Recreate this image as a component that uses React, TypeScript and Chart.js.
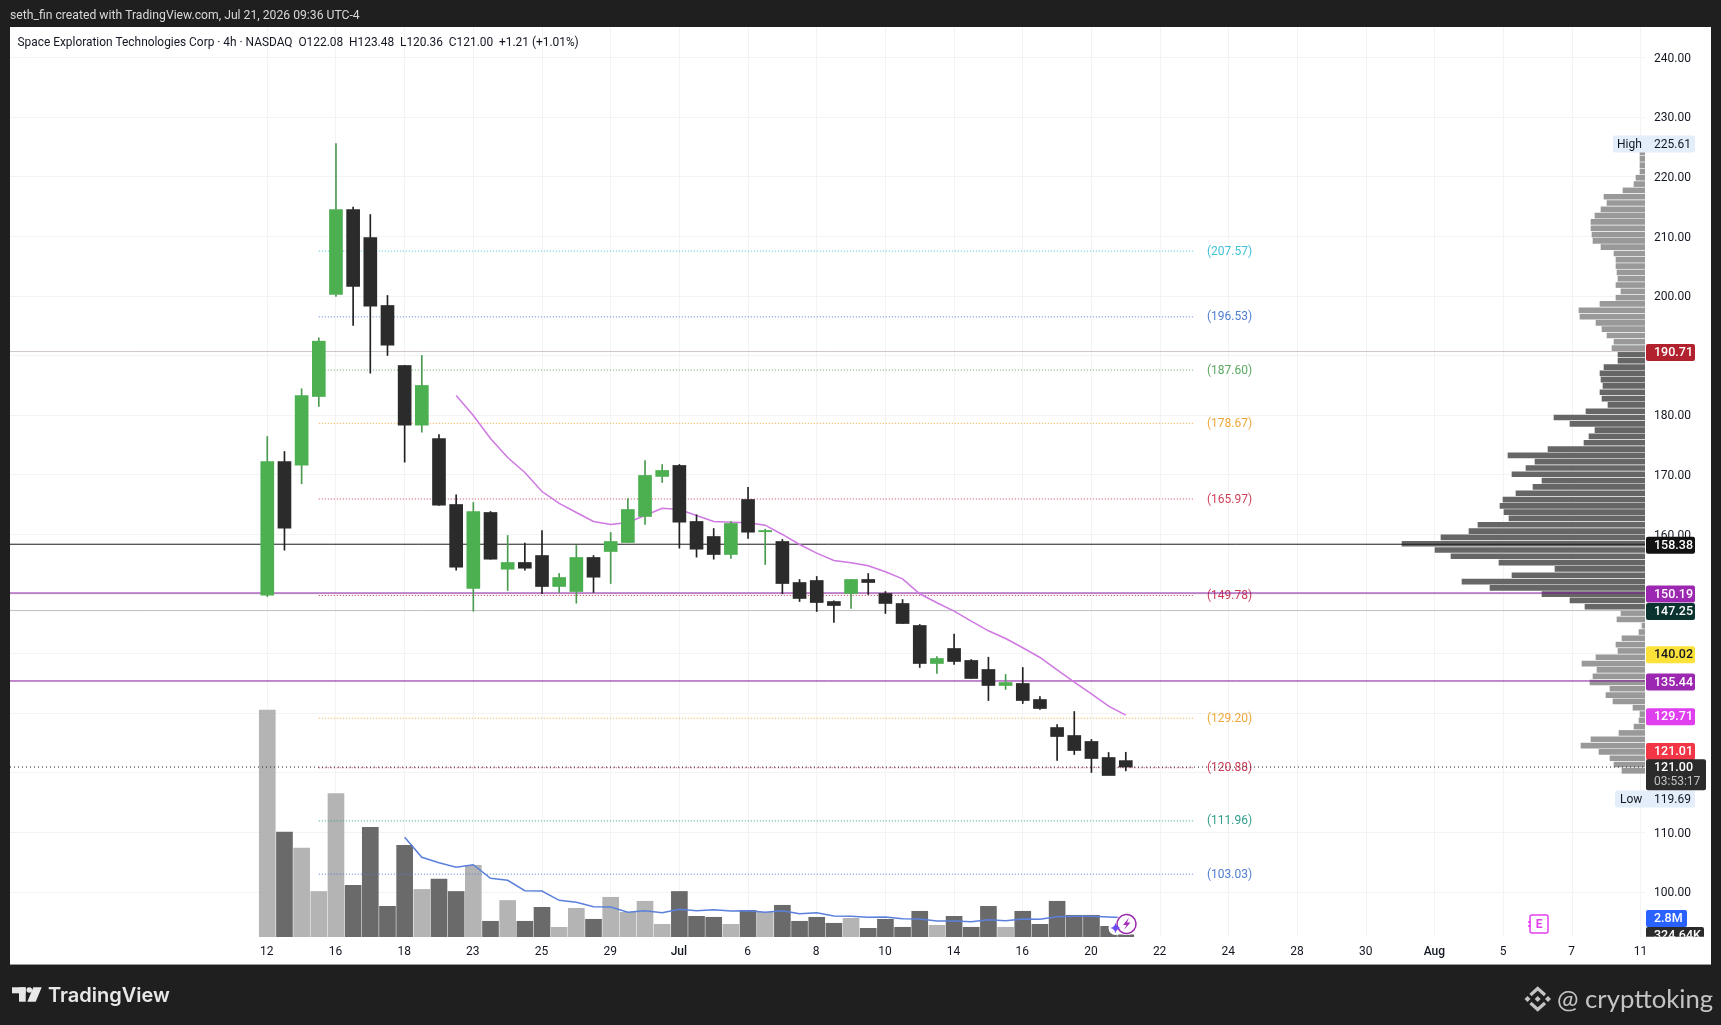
import React, { useEffect, useRef } from "react";
import { Chart, registerables } from "chart.js";

Chart.register(...registerables);

// ---- candles (4h bars, index 0..50) ----
const opens = [149.83,172.27,171.64,183.17,200.29,214.55,209.85,198.44,188.37,178.36,176.12,165.05,150.96,163.71,154.19,155.32,156.49,151.29,150.45,156.16,157.16,158.67,163.04,169.76,171.6,162.2,159.68,156.66,165.89,160.47,158.84,151.96,152.3,148.77,150.12,152.47,150.12,148.44,144.75,138.37,140.89,138.88,137.37,134.68,135.02,132.33,127.63,126.29,125.29,122.6,122.08];
const highs = [176.46,173.94,184.46,193.02,225.61,214.93,213.7,200.12,188.4,190.05,176.79,166.68,165.39,163.88,159.85,158.56,160.69,153.47,158.17,156.49,160.35,166.06,172.43,171.76,171.76,163.32,161.02,162.2,167.95,160.91,159.18,152.47,152.97,148.9,152.5,153.47,150.45,149.11,144.92,139.55,143.29,139.04,139.43,136.53,137.7,132.84,128.14,130.32,125.62,123.44,123.48];
const lows = [149.6,157.38,168.52,181.49,199.95,195.08,187.08,190.05,172.15,177.18,164.9,154.03,147.15,155.87,150.62,154.03,150.07,150.29,148.49,150.29,151.79,158.67,161.69,168.74,157.72,156.21,155.87,155.99,159.35,154.98,150.07,148.77,147.1,145.25,147.6,149.95,146.76,145.08,137.7,136.69,138.2,135.86,132.16,134.01,131.66,130.65,122.1,123.1,120.08,119.69,120.36];
const closes = [172.27,161.07,183.34,192.45,214.55,201.63,198.32,191.78,178.36,185.02,164.93,154.53,163.88,155.87,155.32,154.36,151.29,152.8,156.16,152.85,158.84,164.21,169.92,170.76,162.08,157.55,156.66,161.86,160.4,160.69,151.79,149.28,148.6,148.1,152.47,151.96,148.44,145.08,138.37,139.21,138.71,135.86,134.68,135.18,132.16,130.82,126.12,123.77,122.43,119.58,121.0];

// ---- moving average on price, starts at bar 11 ----
const priceMA = [183.34,179.98,176.12,172.93,170.42,167.23,165.22,163.71,162.2,161.69,162.03,163.2,164.43,164.21,163.2,162.2,162.08,161.98,161.58,160.02,158.34,156.88,155.65,155.27,154.77,153.76,152.58,150.07,148.56,147.15,145.47,143.86,142.57,141.01,139.38,137.32,135.23,133.29,131.21,129.71];

// ---- volume in millions ----
const volumes = [32.9,15.2,12.9,6.6,20.8,7.5,15.9,4.45,13.3,6.9,8.4,6.6,10.4,2.28,5.3,2.28,4.3,1.4,4.16,2.57,5.76,3.58,5.18,1.84,6.6,3.0,2.86,1.84,3.87,3.58,4.6,2.28,2.86,1.99,2.71,1.26,2.57,1.41,3.73,1.7,3.0,1.41,4.45,1.41,3.73,1.84,5.18,3.15,3.15,1.55,0.325];
// ---- volume moving average, starts at bar 8 ----
const volumeMA = [14.46,11.56,10.77,10.1,10.48,8.51,8.22,6.71,6.67,5.32,5.03,4.39,4.35,3.58,3.81,3.52,4.02,3.81,3.96,3.77,3.81,3.58,3.81,3.38,3.52,3.05,3.0,2.86,2.9,2.65,2.61,2.32,2.32,2.22,2.51,2.36,2.61,2.57,2.94,3.0,3.0,2.9,2.8];

// ---- volume profile ----
const profilePrices = [224.1,223.04,221.98,220.92,219.87,218.81,217.75,216.69,215.63,214.57,213.52,212.46,211.4,210.34,209.28,208.22,207.16,206.11,205.05,203.99,202.93,201.87,200.81,199.75,198.7,197.64,196.58,195.52,194.46,193.4,192.35,191.29,190.23,189.17,188.11,187.05,185.99,184.94,183.88,182.82,181.76,180.7,179.64,178.58,177.53,176.47,175.41,174.35,173.29,172.23,171.18,170.12,169.06,168.0,166.94,165.88,164.82,163.77,162.71,161.65,160.59,159.53,158.47,157.41,156.36,155.3,154.24,153.18,152.12,151.06,150.01,148.95,147.89,146.83,145.77,144.71,143.65,142.6,141.54,140.48,139.42,138.36,137.3,136.24,135.19,134.13,133.07,132.01,130.95,129.89,128.83,127.78,126.72,125.66,124.6,123.54,122.48,121.43,120.37];
const profileVolumes = [5,5,5,5,9,11,22,41,38,44,50,54,54,53,52,44,31,29,29,28,27,29,24,29,45,66,65,49,43,38,31,33,27,27,41,45,44,42,45,43,37,59,91,75,50,56,61,97,137,110,119,133,103,112,129,142,145,141,136,167,176,204,243,210,194,146,90,133,183,155,103,75,60,24,28,3,6,23,29,27,49,63,48,52,55,35,39,32,12,5,6,11,26,54,64,46,35,31,23];
const valueAreaHigh = 190.71;
const valueAreaLow = 147.25;

// ---- horizontal levels ----
const fibLevels = [207.57,196.53,187.6,178.67,165.97,149.78,129.2,120.88,111.96,103.03];
const fibColors = ["#3fc1d6","#4f7fd0","#5aa85f","#f0a63a","#d0415a","#c83a55","#f0a63a","#c83a55","#2f9e8c","#4f7fd0"];
const solidLevels = [190.71,158.38,150.19,147.25,135.44];
const solidColors = ["#cfc6c6","#1a1a1a","#82149a","#bdbfbf","#82149a"];
const lastPrice = 121.0;

// ---- axis ticks ----
const priceTicks = [100,110,120,130,140,150,160,170,180,190,200,210,220,230,240];
const hiddenPriceLabels = [120,130,140,150,190];
const timeTickBars = [0,4,8,12,16,20,24,28,32,36,40,44,48,52,56,60,64,68,72,76,80];
const timeTickLabels = ["12","16","18","23","25","29","Jul","6","8","10","14","16","20","22","24","28","30","Aug","5","7","11"];
const monthLabels = ["Jul","Aug"];

// ---- tags on the price axis ----
const tagValues = [190.71,158.38,150.19,147.25,140.02,135.44,129.71,121.01];
const tagTexts = ["190.71","158.38","150.19","147.25","140.02","135.44","129.71","121.01"];
const tagBackgrounds = ["#b2222e","#111111","#9c27b0","#0b3330","#fde23a","#9c27b0","#e03fef","#f23645"];
const tagForegrounds = ["#ffffff","#ffffff","#ffffff","#ffffff","#131722","#ffffff","#ffffff","#ffffff"];

const symbolLine = "Space Exploration Technologies Corp · 4h · NASDAQ  O122.08  H123.48  L120.36  C121.00  +1.21 (+1.01%)";
const creditLine = "seth_fin created with TradingView.com, Jul 21, 2026 09:36 UTC-4";

const FONT = "Roboto, 'Liberation Sans', sans-serif";
const GREEN = "#4caf50";
const DARK = "#2b2b2b";
const bars = opens.map((_, i) => i);
const xMin = -14.985;
const xMax = 80.24;
const fibFrom = 3;
const fibTo = 54;

const overlay = {
  id: "overlay",
  beforeDraw(chart: any) {
    const c = chart.ctx;
    c.save();
    c.fillStyle = "#1f1f1f";
    c.fillRect(0, 0, chart.width, chart.height);
    c.fillStyle = "#ffffff";
    c.fillRect(10, 27, 1701, 937);
    c.fillStyle = "#9a9a9a";
    c.fillRect(10, 964, 1701, 1);
    c.restore();
  },
  beforeDatasetsDraw(chart: any) {
    const c = chart.ctx;
    const y = chart.scales.y;
    c.save();
    c.font = `12px ${FONT}`;
    c.textBaseline = "middle";
    c.textAlign = "left";
    fibLevels.forEach((v, i) => {
      c.fillStyle = fibColors[i];
      c.fillText(`(${v.toFixed(2)})`, 1207, y.getPixelForValue(v) + 0.5);
    });
    c.restore();
  },
  afterDraw(chart: any) {
    const c = chart.ctx;
    const y = chart.scales.y;
    c.save();
    c.textBaseline = "middle";
    c.textAlign = "left";

    // header text
    c.font = `12.2px ${FONT}`;
    c.fillStyle = "#d8d8d8";
    c.fillText(creditLine, 10, 16);
    c.fillStyle = "#131722";
    c.font = `11.9px ${FONT}`;
    c.fillText(symbolLine, 17.5, 43);

    const pill = (x0: number, x1: number, cy: number, h: number, bg: string) => {
      c.fillStyle = bg;
      c.beginPath();
      c.roundRect(x0, cy - h / 2, x1 - x0, h, 2);
      c.fill();
    };

    c.font = `12px ${FONT}`;
    // High / Low
    const highY = y.getPixelForValue(225.61) + 0.5;
    pill(1613, 1695, highY, 17, "#e3eefa");
    c.fillStyle = "#131722";
    c.fillText("High", 1617, highY + 0.5);
    c.fillText("225.61", 1654, highY + 0.5);
    pill(1615, 1695, 799, 17, "#e3eefa");
    c.fillStyle = "#131722";
    c.fillText("Low", 1620, 799.5);
    c.fillText("119.69", 1654, 799.5);

    // Value tags
    c.font = `500 12.5px ${FONT}`;
    tagValues.forEach((v, i) => {
      const nudge = v === 121.01 ? -15.5 : v === 129.71 ? 1.5 : 1;
      const cy = y.getPixelForValue(v) + nudge;
      pill(1646, 1695, cy, 17, tagBackgrounds[i]);
      c.fillStyle = tagForegrounds[i];
      c.fillText(tagTexts[i], 1654, cy + 0.5);
    });

    // Last price with countdown
    pill(1646, 1706, 774.7, 31, "#2b2b2b");
    c.fillStyle = "#ffffff";
    c.fillText("121.00", 1654, 768);
    c.font = `12px ${FONT}`;
    c.fillStyle = "#c2c2c2";
    c.fillText("03:53:17", 1654, 782);

    // Volume tags
    c.font = `500 12.5px ${FONT}`;
    pill(1646, 1687, 918.5, 17, "#2962ff");
    c.fillStyle = "#ffffff";
    c.fillText("2.8M", 1654, 919);
    c.save();
    c.beginPath();
    c.rect(1640, 927, 70, 9.7);
    c.clip();
    pill(1646, 1704, 935.5, 17, "#2b2b2b");
    c.fillStyle = "#ffffff";
    c.fillText("324.64K", 1654, 936);
    c.restore();

    // Earnings marker
    c.strokeStyle = "#e23fee";
    c.lineWidth = 1.5;
    c.beginPath();
    c.roundRect(1530, 915, 18, 18, 2);
    c.stroke();
    c.beginPath();
    c.moveTo(1528, 922);
    c.lineTo(1531, 922);
    c.moveTo(1528, 926);
    c.lineTo(1531, 926);
    c.stroke();
    c.fillStyle = "#e23fee";
    c.font = `bold 12px ${FONT}`;
    c.textAlign = "center";
    c.fillText("E", 1539, 924.5);
    c.textAlign = "left";

    // Lightning badge and star
    c.fillStyle = "#ffffff";
    c.beginPath();
    c.arc(1126.5, 924, 11, 0, Math.PI * 2);
    c.fill();
    c.beginPath();
    c.arc(1115.5, 928, 7, 0, Math.PI * 2);
    c.fill();
    c.strokeStyle = "#9c27b0";
    c.lineWidth = 1.5;
    c.beginPath();
    c.arc(1126.5, 924, 9.5, -0.1, Math.PI * 2);
    c.stroke();
    c.fillStyle = "#a52bbd";
    c.beginPath();
    c.moveTo(1129, 917.5);
    c.lineTo(1123, 925);
    c.lineTo(1126.5, 925);
    c.lineTo(1124, 930);
    c.lineTo(1130.5, 922.5);
    c.lineTo(1127, 922.5);
    c.closePath();
    c.fill();
    c.fillStyle = "#6a4df5";
    c.beginPath();
    c.moveTo(1115.5, 922.5);
    c.quadraticCurveTo(1116.2, 927.3, 1121, 928);
    c.quadraticCurveTo(1116.2, 928.7, 1115.5, 933.5);
    c.quadraticCurveTo(1114.8, 928.7, 1110, 928);
    c.quadraticCurveTo(1114.8, 927.3, 1115.5, 922.5);
    c.fill();

    // TradingView logo
    c.fillStyle = "#e8e8e8";
    c.fillRect(12, 987.3, 13.7, 6);
    c.fillRect(19, 987.3, 6.7, 14.4);
    c.beginPath();
    c.arc(29.3, 990, 2.8, 0, Math.PI * 2);
    c.fill();
    c.beginPath();
    c.moveTo(33.3, 987.3);
    c.lineTo(41.7, 987.3);
    c.lineTo(35.7, 1001.7);
    c.lineTo(27.3, 1001.7);
    c.closePath();
    c.fill();
    c.font = `600 20px Inter, ${FONT}`;
    c.fillText("TradingView", 48, 996);

    // Watermark
    c.fillStyle = "#c4c4c4";
    const gem = (cx: number, cy: number, r: number) => {
      c.beginPath();
      c.moveTo(cx, cy - r);
      c.lineTo(cx + r, cy);
      c.lineTo(cx, cy + r);
      c.lineTo(cx - r, cy);
      c.closePath();
      c.fill();
    };
    gem(1527.5, 999, 3);
    gem(1548, 999, 3);
    gem(1537.7, 999, 3);
    c.strokeStyle = "#c4c4c4";
    c.lineWidth = 3.2;
    c.beginPath();
    c.moveTo(1530.5, 995);
    c.lineTo(1537.7, 988.5);
    c.lineTo(1545, 995);
    c.moveTo(1530.5, 1003);
    c.lineTo(1537.7, 1009.5);
    c.lineTo(1545, 1003);
    c.stroke();
    c.font = `25.7px Lato, ${FONT}`;
    c.fillText("@ crypttoking", 1557, 1000);
    c.restore();
  },
};

function hLine(id: string, value: number, from: number, to: number, color: string, dash: number[], order: number) {
  return {
    type: "line",
    label: id,
    data: [
      { x: from, y: value },
      { x: to, y: value },
    ],
    borderColor: color,
    borderWidth: 1,
    borderDash: dash,
    pointRadius: 0,
    xAxisID: "x",
    yAxisID: "y",
    order,
  };
}

export default function App() {
  const ref = useRef<HTMLCanvasElement | null>(null);

  useEffect(() => {
    if (!ref.current) return;
    const up = (i: number) => closes[i] >= opens[i];
    const datasets: any[] = [
      {
        type: "bar",
        label: "Volume",
        data: bars.map((i) => ({ x: i, y: volumes[i] })),
        backgroundColor: bars.map((i) => (up(i) ? "#b4b4b4" : "#6a6a6a")),
        barThickness: 16,
        grouped: false,
        xAxisID: "x",
        yAxisID: "yv",
        order: 10,
      },
      {
        type: "line",
        label: "Volume MA",
        data: volumeMA.map((v, i) => ({ x: i + 8, y: v })),
        borderColor: "#5b80dc",
        borderWidth: 1.5,
        pointRadius: 0,
        xAxisID: "x",
        yAxisID: "yv",
        order: 9,
      },
      {
        type: "bar",
        label: "Volume profile",
        indexAxis: "y",
        data: profilePrices.map((p, i) => ({ x: profileVolumes[i], y: p })),
        backgroundColor: profilePrices.map((p) =>
          p <= valueAreaHigh && p >= valueAreaLow ? "#666666" : "#999999"
        ),
        barThickness: 5,
        grouped: false,
        xAxisID: "xp",
        yAxisID: "y",
        order: 8,
      },
      ...fibLevels.map((v, i) => hLine(`fib ${v}`, v, fibFrom, fibTo, fibColors[i], [1, 2], 7)),
      ...solidLevels.map((v, i) => hLine(`level ${v}`, v, xMin, xMax, solidColors[i], [], 6)),
      hLine("last", lastPrice, xMin, xMax, "#222222", [1, 3], 6),
      {
        type: "line",
        label: "MA",
        data: priceMA.map((v, i) => ({ x: i + 11, y: v })),
        borderColor: "#cf78e2",
        borderWidth: 1.5,
        pointRadius: 0,
        xAxisID: "x",
        yAxisID: "y",
        order: 5,
      },
      {
        type: "bar",
        label: "Wicks",
        data: bars.map((i) => ({ x: i, y: [lows[i], highs[i]] })),
        backgroundColor: bars.map((i) => (up(i) ? "#4a9a50" : "#222222")),
        barThickness: 1,
        grouped: false,
        xAxisID: "x",
        yAxisID: "y",
        order: 4,
      },
      {
        type: "bar",
        label: "Bodies",
        data: bars.map((i) => ({ x: i, y: [opens[i], closes[i]] })),
        backgroundColor: bars.map((i) => (up(i) ? GREEN : DARK)),
        barThickness: 13,
        grouped: false,
        xAxisID: "x",
        yAxisID: "y",
        order: 3,
      },
    ];

    const chart = new Chart(ref.current, {
      type: "bar",
      data: { datasets },
      plugins: [overlay],
      options: {
        responsive: false,
        animation: false,
        events: [],
        layout: { padding: { left: 10, top: 27, right: 10, bottom: 60 } },
        plugins: { legend: { display: false }, tooltip: { enabled: false }, title: { display: false } },
        scales: {
          x: {
            type: "linear",
            position: "bottom",
            min: xMin,
            max: xMax,
            offset: false,
            grid: { color: "#f3f3f3", offset: false, drawTicks: false },
            border: { display: false },
            afterBuildTicks: (axis: any) => {
              axis.ticks = timeTickBars.map((value) => ({ value }));
            },
            afterFit: (axis: any) => {
              axis.height = 28;
            },
            ticks: {
              autoSkip: false,
              maxRotation: 0,
              minRotation: 0,
              padding: 8,
              labelOffset: -0.5,
              color: "#131722",
              font: (ctx: any) => {
                const k = timeTickBars.indexOf(Number(ctx.tick && ctx.tick.value));
                const month = k >= 0 && monthLabels.includes(timeTickLabels[k]);
                return { family: FONT, size: 12, weight: month ? "500" : "400" };
              },
              callback: (value: any) => {
                const k = timeTickBars.indexOf(Number(value));
                return k >= 0 ? timeTickLabels[k] : "";
              },
            },
          },
          y: {
            type: "linear",
            position: "right",
            min: 92.484,
            max: 245.164,
            offset: false,
            grid: { color: "#f3f3f3", offset: false, drawTicks: false },
            border: { display: false },
            afterBuildTicks: (axis: any) => {
              axis.ticks = priceTicks.map((value) => ({ value }));
            },
            afterFit: (axis: any) => {
              axis.width = 66;
            },
            ticks: {
              autoSkip: false,
              padding: 9,
              labelOffset: 1,
              color: "#131722",
              font: { family: FONT, size: 12 },
              callback: (value: any) =>
                hiddenPriceLabels.includes(Number(value)) ? "" : Number(value).toFixed(2),
            },
          },
          yv: {
            type: "linear",
            display: false,
            min: 0,
            max: 131.95,
            offset: false,
            grid: { display: false },
          },
          xp: {
            type: "linear",
            display: false,
            reverse: true,
            min: 0,
            max: 1635,
            offset: false,
            grid: { display: false },
          },
        },
      },
    } as any);
    return () => chart.destroy();
  }, []);

  return (
    <div style={{ position: "fixed", left: 0, top: 0, width: 1721, height: 1025, background: "#1f1f1f" }}>
      <canvas ref={ref} width={1721} height={1025} style={{ display: "block" }} />
    </div>
  );
}
